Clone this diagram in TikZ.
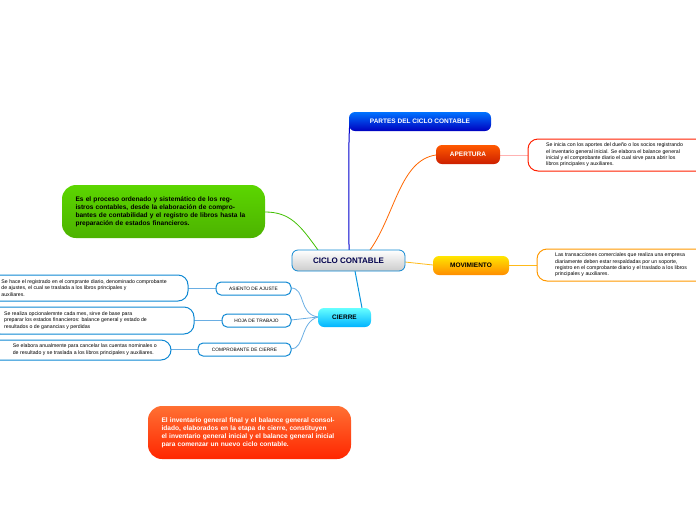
\documentclass[tikz,border=0pt]{standalone}
\usepackage{fontspec}
\setmainfont{Liberation Sans}
\begin{document}
\begin{tikzpicture}[x=1pt,y=-1pt,
 main/.style={rounded corners=6pt,font=\bfseries\fontsize{6.5}{7}\selectfont,text=white,inner sep=0pt},
 sub/.style={rounded corners=5pt,draw=cyan!70!blue,line width=1pt,fill=white,font=\fontsize{4.8}{5.5}\selectfont,inner sep=0pt},
 note/.style={rounded corners=10pt,line width=1pt,fill=white,font=\fontsize{5.2}{6.3}\selectfont,inner sep=0pt},
 ntext/.style={anchor=west,align=left,font=\fontsize{5.2}{6.3}\selectfont,inner sep=0pt},
 big/.style={rounded corners=14pt,align=left,font=\bfseries\fontsize{6.6}{8}\selectfont,inner sep=0pt}]
\useasboundingbox (0,0) rectangle (696,520);
\clip (0,0) rectangle (696,520);
% connectors
\draw[blue!80!black,line width=1pt] (349,250) .. controls (349,200) and (348,140) .. (350,121);
\draw[orange!80!red,line width=0.8pt] (370,250) .. controls (395,215) and (400,160) .. (436,155);
\draw[orange!60!yellow!90!white,line width=0.8pt] (405,262) -- (433,265);
\draw[orange!60!yellow!90!white,line width=0.8pt] (509,265) -- (537,265);
\draw[red!30,line width=0.8pt] (500,155) -- (528,155);
\draw[green!50!olive,line width=0.8pt] (318,250) .. controls (300,225) and (290,212) .. (265,212);
\draw[cyan!80!blue,line width=1pt] (355,271) -- (362,308);
\draw[cyan!70!blue!60,line width=0.8pt] (318,317) .. controls (298,314) and (306,288) .. (291,288);
\draw[cyan!70!blue!60,line width=0.8pt] (318,317) -- (291,320);
\draw[cyan!70!blue!60,line width=0.8pt] (318,317) .. controls (300,322) and (305,349) .. (291,349);
\draw[cyan!70!blue!60,line width=0.8pt] (216,288) -- (188,288);
\draw[cyan!70!blue!60,line width=0.8pt] (222,320) -- (194,320);
\draw[cyan!70!blue!60,line width=0.8pt] (198,349) -- (171,349);
% nodes
\node[main,top color=blue!55!cyan,bottom color=blue!75!black,minimum width=142pt,minimum height=19pt] (partes) at (420,121.5) {PARTES DEL CICLO CONTABLE};
\node[main,top color=orange!70!red,bottom color=red!70!orange!80!black,minimum width=64pt,minimum height=19pt] (ap) at (468,154.5) {APERTURA};
\node[main,text=black,top color=yellow!80!orange,bottom color=orange!90!yellow,minimum width=76pt,minimum height=19pt] (mov) at (471,265.5) {MOVIMIENTO};
\node[main,text=blue!30!black,top color=white,bottom color=gray!40,draw=cyan!70!blue,line width=0.8pt,minimum width=113pt,minimum height=21pt,font=\bfseries\fontsize{8}{9}\selectfont] (ciclo) at (348.5,260.5) {CICLO CONTABLE};
\node[main,text=black,top color=cyan!60,bottom color=cyan!70!blue,minimum width=53pt,minimum height=19pt] (cierre) at (344.5,317.5) {CIERRE};
\node[big,text=black,top color=green!60!olive!80!yellow,bottom color=green!40!olive,minimum width=203pt,minimum height=53pt,text width=176pt] (def) at (163.5,211.5) {\hyphenpenalty=10000 Es el proceso ordenado y sistemático de los registros contables, desde la elaboración de comprobantes de contabilidad y el registro de libros hasta la preparación de estados financieros.};
\node[big,text=white,top color=orange!60!red!80!white,bottom color=red!70!orange,minimum width=203pt,minimum height=53pt,text width=176pt] (fin) at (249.5,432.5) {\hyphenpenalty=10000 El inventario general final y el balance general consolidado, elaborados en la etapa de cierre, constituyen el inventario general inicial y el balance general inicial para comenzar un nuevo ciclo contable.};
\node[sub,minimum width=75pt,minimum height=13pt] (asi) at (253.5,288.5) {ASIENTO DE AJUSTE};
\node[sub,minimum width=69pt,minimum height=13pt] (hoja) at (256.5,320.5) {HOJA DE TRABAJO};
\node[sub,minimum width=93pt,minimum height=13pt] (comp) at (244.5,349.5) {COMPROBANTE DE CIERRE};
\node[note,draw=red!75!orange,minimum width=190pt,minimum height=32pt] (apt) at (623,155) {};
\node[ntext] (aptt) at (546,155) {Se inicia con los aportes del dueño o los socios registrando\\el inventario general inicial. Se elabora el balance general\\inicial y el comprobante diario el cual sirve para abrir los\\libros principales y auxiliares.};
\node[note,draw=orange!80!yellow,minimum width=190pt,minimum height=32pt] (movt) at (632,265) {};
\node[ntext] (movtt) at (555,265) {Las transacciones comerciales que realiza una empresa\\diariamente deben estar respaldadas por un soporte,\\registro en el comprobante diario y el traslado a los libros\\principales y auxiliares.};
\node[note,draw=cyan!70!blue,minimum width=218pt,minimum height=26pt] (asit) at (79,288) {};
\node[ntext,anchor=east] (asitt) at (167,288) {Se hace el registrado en el comprante diario, denominado comprobante\\de ajustes, el cual se traslada a los libros principales y\\auxiliares.};
\node[note,draw=cyan!70!blue,minimum width=204pt,minimum height=27pt] (hojat) at (92,320.5) {};
\node[ntext] (hojatt) at (4,320.5) {Se realiza opcionalemnte cada mes, sirve de base para\\preparar los estados financieros: balance general y estado de\\resultados o de ganancias y perdidas};
\node[note,draw=cyan!70!blue,minimum width=200pt,minimum height=20pt] (compt) at (71,350) {};
\node[ntext,anchor=east] (comptt) at (157,349.5) {Se elabora anualmente para cancelar las cuentas nominales o\\de resultado y se traslada a los libros principales y auxiliares.};
\end{tikzpicture}
\end{document}
